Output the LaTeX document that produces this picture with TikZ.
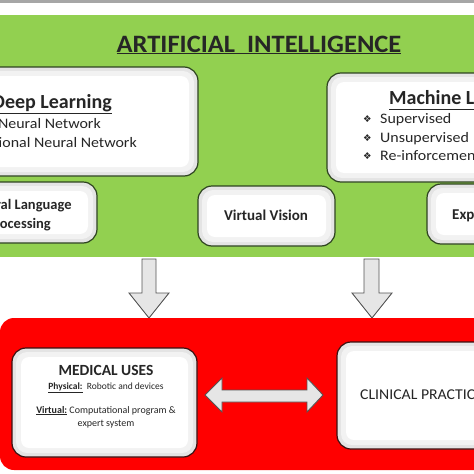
\documentclass[tikz,border=0pt]{standalone}
\usepackage{fontspec}
\setmainfont{Carlito}
\newfontfamily\dejavu{DejaVu Sans}
\usetikzlibrary{calc}
\definecolor{aigreen}{HTML}{92D050}
\definecolor{aired}{HTML}{FF0000}
\definecolor{txt}{HTML}{262626}
\definecolor{boxedge}{HTML}{E4E4E4}
\definecolor{boxmid}{HTML}{F2F2F2}
\definecolor{gline}{HTML}{2E4420}
\definecolor{rline}{HTML}{3A1010}
\definecolor{arrowfill}{HTML}{E6E6E6}
\definecolor{arrowline}{HTML}{555555}
\definecolor{topgray}{HTML}{A6A6A6}
\tikzset{
  softbox/.style={rounded corners=14pt, fill=boxedge, line width=1.2pt},
  midbox/.style={rounded corners=11pt, fill=boxmid},
  innerbox/.style={rounded corners=8pt, fill=white},
  lbl/.style={inner sep=0pt, text=txt, anchor=base},
  bodytxt/.style={lbl, font=\fontsize{14.5}{14.5}\selectfont, xscale=1.1},
  bullet/.style={lbl, anchor=base west, font=\dejavu\fontsize{9.5}{9.5}\selectfont},
  blockarrow/.style={fill=arrowfill, draw=arrowline, line width=0.9pt, line join=miter},
}
\newcommand{\softpanel}[6]{%
  \path[softbox, draw=#5] (#1,#2) rectangle (#3,#4);
  \path[midbox] ([shift={(4,4)}]#1,#2) rectangle ([shift={(-4,-4)}]#3,#4);
  \path[innerbox] ([shift={(9,9)}]#1,#2) rectangle ([shift={(-9,-9)}]#3,#4);
  \coordinate (#6) at ($(#1,#2)!0.5!(#3,#4)$);
}
\begin{document}
\begin{tikzpicture}[x=1pt,y=-1pt]
\useasboundingbox (0,0) rectangle (474,474);
\clip (0,0) rectangle (474,474);
\fill[white] (0,0) rectangle (474,474);
\fill[topgray] (0,0) rectangle (474,2.5);
% green region
\fill[aigreen] (0,15) rectangle (474,257);
\node[lbl, font=\bfseries\fontsize{25}{25}\selectfont, xscale=1.06] (title) at (259,52) {\underline{ARTIFICIAL\ \ INTELLIGENCE}};
% Deep Learning
\softpanel{-30}{67}{198}{176}{gline}{dl}
\node[lbl, font=\bfseries\fontsize{20}{20}\selectfont, anchor=base east] (dlt) at (112,108) {\underline{Deep Learning}};
\node[bodytxt, anchor=base east] (dl1) at (101,128) {Artificial Neural Network};
\node[bodytxt, anchor=base east] (dl2) at (137,147) {Convolutional Neural Network};
% Machine Learning
\softpanel{327}{73}{520}{182}{gline}{ml}
\node[lbl, font=\bfseries\fontsize{20}{20}\selectfont, anchor=base west] (mlt) at (389,104) {\underline{Machine Learning}};
\node[bullet] (b1) at (363,122) {❖};
\node[bullet] (b2) at (363,141) {❖};
\node[bullet] (b3) at (363,159) {❖};
\node[bodytxt, anchor=base west] (ml1) at (380,123) {Supervised};
\node[bodytxt, anchor=base west] (ml2) at (380,142) {Unsupervised};
\node[bodytxt, anchor=base west] (ml3) at (380,160) {Re-inforcement Learning};
% lower green row
\softpanel{-40}{182}{97}{243}{gline}{nlp}
\node[lbl, font=\bfseries\fontsize{14.5}{14.5}\selectfont] (nlp1) at (19,209) {Natural Language};
\node[lbl, font=\bfseries\fontsize{14.5}{14.5}\selectfont] (nlp2) at (19,228) {Processing};
\softpanel{198}{186}{335}{246}{gline}{vv}
\node[lbl, font=\bfseries\fontsize{15}{15}\selectfont] (vvt) at (266,220) {Virtual Vision};
\softpanel{427}{184}{560}{244}{gline}{ex}
\node[lbl, font=\bfseries\fontsize{15}{15}\selectfont, anchor=base west] (ext) at (452,219) {Expert System};
% down arrows
\draw[blockarrow] (142,259) -- (156,259) -- (156,293) -- (169,293) -- (149,318) -- (129,293) -- (142,293) -- cycle;
\draw[blockarrow] (364,259) -- (379,259) -- (379,293) -- (392,293) -- (372,318) -- (352,293) -- (364,293) -- cycle;
% red region
\fill[aired, rounded corners=14pt] (0,318) rectangle (520,470);
\fill[aired] (20,318) rectangle (474,470);
% Medical uses
\softpanel{12}{348}{197}{457}{rline}{med}
\node[lbl, font=\bfseries\fontsize{15.5}{15.5}\selectfont] (medt) at (106,375) {MEDICAL USES};
\node[lbl, font=\fontsize{9.5}{9.5}\selectfont] (med1) at (106,389) {\textbf{\underline{Physical:}}\ \ Robotic and devices};
\node[lbl, font=\fontsize{10}{10}\selectfont] (med2) at (106,413) {\textbf{\underline{Virtual:}} Computational program \&};
\node[lbl, font=\fontsize{10}{10}\selectfont] (med3) at (106,426) {expert system};
% Clinical practice
\softpanel{337}{342}{560}{449}{rline}{cp}
\node[lbl, font=\fontsize{15}{15}\selectfont, xscale=1.05, anchor=base west] (cpt) at (360,399) {CLINICAL PRACTICE};
% double arrow
\draw[blockarrow] (205,395) -- (222,378) -- (222,390) -- (307,390) -- (307,378) -- (323,395) -- (307,412) -- (307,402) -- (222,402) -- (222,412) -- cycle;
\end{tikzpicture}
\end{document}
